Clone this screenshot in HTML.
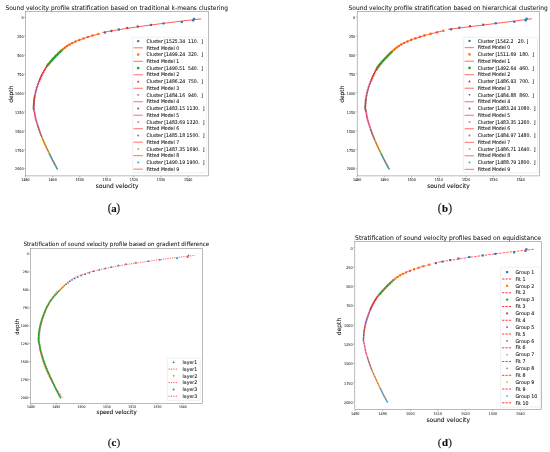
<!DOCTYPE html>
<html><head><meta charset="utf-8"><style>
html,body{margin:0;padding:0;background:#fff;width:550px;height:452px;overflow:hidden}
svg{display:block}
text{white-space:pre}
.tt{font-family:'DejaVu Sans','Liberation Sans',sans-serif;fill:#0a0a0a;stroke:#0a0a0a;stroke-width:0.06}
.tl{font-family:'DejaVu Sans','Liberation Sans',sans-serif;fill:#1a1a1a;stroke:#1a1a1a;stroke-width:0.05}
.ti{font-family:'DejaVu Sans','Liberation Sans',sans-serif;fill:#0d0d0d;stroke:#0d0d0d;stroke-width:0.02}
.lt{font-family:'DejaVu Sans','Liberation Sans',sans-serif;fill:#111;stroke:#111;stroke-width:0.08}
.cap{font-family:'Liberation Serif',serif;font-weight:normal;fill:#111;stroke:#111;stroke-width:0.15}
.ax{fill:none;stroke:#808080;stroke-width:0.55}
.tk{stroke:#808080;stroke-width:0.45}
.lg{fill:#fff;fill-opacity:0.8;stroke:#e0e0e0;stroke-width:0.5}
.fit{fill:none;stroke:#ff3030;stroke-width:0.8}
</style></head><body>
<svg width="550" height="452" viewBox="0 0 550 452">
<defs><filter id="bl" x="0" y="0" width="1" height="1"><feGaussianBlur stdDeviation="0.35"/></filter></defs>
<g filter="url(#bl)">
<line x1="25.5" y1="175.9" x2="25.5" y2="177.5" class="tk"/>
<text x="25.5" y="180.65" text-anchor="middle" font-size="3.63" textLength="8.4" lengthAdjust="spacingAndGlyphs" class="tl">1480</text>
<line x1="52.6" y1="175.9" x2="52.6" y2="177.5" class="tk"/>
<text x="52.6" y="180.65" text-anchor="middle" font-size="3.63" textLength="8.4" lengthAdjust="spacingAndGlyphs" class="tl">1490</text>
<line x1="79.7" y1="175.9" x2="79.7" y2="177.5" class="tk"/>
<text x="79.7" y="180.65" text-anchor="middle" font-size="3.63" textLength="8.4" lengthAdjust="spacingAndGlyphs" class="tl">1500</text>
<line x1="106.8" y1="175.9" x2="106.8" y2="177.5" class="tk"/>
<text x="106.8" y="180.65" text-anchor="middle" font-size="3.63" textLength="8.4" lengthAdjust="spacingAndGlyphs" class="tl">1510</text>
<line x1="133.9" y1="175.9" x2="133.9" y2="177.5" class="tk"/>
<text x="133.9" y="180.65" text-anchor="middle" font-size="3.63" textLength="8.4" lengthAdjust="spacingAndGlyphs" class="tl">1520</text>
<line x1="161" y1="175.9" x2="161" y2="177.5" class="tk"/>
<text x="161" y="180.65" text-anchor="middle" font-size="3.63" textLength="8.4" lengthAdjust="spacingAndGlyphs" class="tl">1530</text>
<line x1="188.1" y1="175.9" x2="188.1" y2="177.5" class="tk"/>
<text x="188.1" y="180.65" text-anchor="middle" font-size="3.63" textLength="8.4" lengthAdjust="spacingAndGlyphs" class="tl">1540</text>
<line x1="23.9" y1="17.35" x2="25.5" y2="17.35" class="tk"/>
<text x="23.5" y="19.15" text-anchor="end" font-size="3.63" textLength="2.1" lengthAdjust="spacingAndGlyphs" class="tl">0</text>
<line x1="23.9" y1="36.26" x2="25.5" y2="36.26" class="tk"/>
<text x="23.5" y="38.06" text-anchor="end" font-size="3.63" textLength="6.3" lengthAdjust="spacingAndGlyphs" class="tl">250</text>
<line x1="23.9" y1="55.17" x2="25.5" y2="55.17" class="tk"/>
<text x="23.5" y="56.97" text-anchor="end" font-size="3.63" textLength="6.3" lengthAdjust="spacingAndGlyphs" class="tl">500</text>
<line x1="23.9" y1="74.08" x2="25.5" y2="74.08" class="tk"/>
<text x="23.5" y="75.88" text-anchor="end" font-size="3.63" textLength="6.3" lengthAdjust="spacingAndGlyphs" class="tl">750</text>
<line x1="23.9" y1="92.99" x2="25.5" y2="92.99" class="tk"/>
<text x="23.5" y="94.79" text-anchor="end" font-size="3.63" textLength="8.4" lengthAdjust="spacingAndGlyphs" class="tl">1000</text>
<line x1="23.9" y1="111.91" x2="25.5" y2="111.91" class="tk"/>
<text x="23.5" y="113.71" text-anchor="end" font-size="3.63" textLength="8.4" lengthAdjust="spacingAndGlyphs" class="tl">1250</text>
<line x1="23.9" y1="130.82" x2="25.5" y2="130.82" class="tk"/>
<text x="23.5" y="132.62" text-anchor="end" font-size="3.63" textLength="8.4" lengthAdjust="spacingAndGlyphs" class="tl">1500</text>
<line x1="23.9" y1="149.73" x2="25.5" y2="149.73" class="tk"/>
<text x="23.5" y="151.53" text-anchor="end" font-size="3.63" textLength="8.4" lengthAdjust="spacingAndGlyphs" class="tl">1750</text>
<line x1="23.9" y1="168.64" x2="25.5" y2="168.64" class="tk"/>
<text x="23.5" y="170.44" text-anchor="end" font-size="3.63" textLength="8.4" lengthAdjust="spacingAndGlyphs" class="tl">2000</text>
<rect x="25.5" y="11.45" width="182.8" height="164.45" class="ax"/>
<text x="5.5" y="9.75" textLength="222.5" lengthAdjust="spacingAndGlyphs" font-size="6.3" class="ti">Sound velocity profile stratification based on traditional k-means clustering</text>
<text x="117.2" y="187.7" text-anchor="middle" font-size="6.17" textLength="42.7" lengthAdjust="spacingAndGlyphs" class="tt">sound velocity</text>
<text transform="translate(12.6,94.2) rotate(-90)" text-anchor="middle" font-size="5.88" class="tt">depth</text>
<text x="114" y="211.6" text-anchor="middle" font-size="11.6" class="cap">(<tspan font-size="10.8" dx="-0.4" font-weight="bold">a</tspan><tspan dx="-0.4">)</tspan></text>
<circle cx="194.06" cy="18.86" r="1.2" fill="#1f77b4"/>
<circle cx="193.16" cy="20.38" r="1.2" fill="#1f77b4"/>
<circle cx="181.89" cy="21.89" r="1.2" fill="#1f77b4"/>
<circle cx="163.47" cy="23.4" r="1.2" fill="#1f77b4"/>
<circle cx="150.99" cy="24.91" r="1.2" fill="#1f77b4"/>
<circle cx="137.81" cy="26.43" r="1.2" fill="#1f77b4"/>
<circle cx="127.19" cy="27.94" r="1.2" fill="#1f77b4"/>
<circle cx="118.96" cy="29.45" r="1.2" fill="#1f77b4"/>
<circle cx="111.38" cy="30.97" r="1.2" fill="#1f77b4"/>
<circle cx="104.9" cy="32.48" r="1.2" fill="#1f77b4"/>
<circle cx="98.59" cy="33.99" r="1.3" fill="#ff7f0e"/>
<circle cx="92.49" cy="35.5" r="1.3" fill="#ff7f0e"/>
<circle cx="87.89" cy="37.02" r="1.3" fill="#ff7f0e"/>
<circle cx="83.44" cy="38.53" r="1.3" fill="#ff7f0e"/>
<circle cx="79.27" cy="40.04" r="1.3" fill="#ff7f0e"/>
<circle cx="75.51" cy="41.56" r="1.3" fill="#ff7f0e"/>
<circle cx="72.26" cy="43.07" r="1.3" fill="#ff7f0e"/>
<circle cx="69.47" cy="44.58" r="1.3" fill="#ff7f0e"/>
<circle cx="67.06" cy="46.09" r="1.3" fill="#ff7f0e"/>
<circle cx="64.97" cy="47.61" r="1.3" fill="#ff7f0e"/>
<circle cx="63.1" cy="49.12" r="1.3" fill="#ff7f0e"/>
<circle cx="61.38" cy="50.63" r="1.35" fill="#2ca02c"/>
<circle cx="59.75" cy="52.15" r="1.35" fill="#2ca02c"/>
<circle cx="58.2" cy="53.66" r="1.35" fill="#2ca02c"/>
<circle cx="56.68" cy="55.17" r="1.35" fill="#2ca02c"/>
<circle cx="55.22" cy="56.69" r="1.35" fill="#2ca02c"/>
<circle cx="53.8" cy="58.2" r="1.35" fill="#2ca02c"/>
<circle cx="52.42" cy="59.71" r="1.35" fill="#2ca02c"/>
<circle cx="51.05" cy="61.22" r="1.35" fill="#2ca02c"/>
<circle cx="49.7" cy="62.74" r="1.35" fill="#2ca02c"/>
<circle cx="48.4" cy="64.25" r="1.35" fill="#2ca02c"/>
<circle cx="47.18" cy="65.76" r="1.35" fill="#2ca02c"/>
<path d="M46.12,65.9L47.44,68.18L44.8,68.18Z" fill="#d62728"/>
<path d="M45.16,67.41L46.48,69.69L43.84,69.69Z" fill="#d62728"/>
<path d="M44.28,68.92L45.6,71.2L42.96,71.2Z" fill="#d62728"/>
<path d="M43.42,70.43L44.74,72.71L42.1,72.71Z" fill="#d62728"/>
<path d="M42.6,71.95L43.92,74.23L41.28,74.23Z" fill="#d62728"/>
<path d="M41.83,73.46L43.15,75.74L40.51,75.74Z" fill="#d62728"/>
<path d="M41.12,74.97L42.44,77.25L39.8,77.25Z" fill="#d62728"/>
<path d="M40.46,76.49L41.78,78.77L39.14,78.77Z" fill="#d62728"/>
<path d="M39.85,78L41.17,80.28L38.53,80.28Z" fill="#d62728"/>
<path d="M39.27,79.51L40.59,81.79L37.95,81.79Z" fill="#d62728"/>
<path d="M38.72,83.73L39.99,81.54L37.46,81.54Z" fill="#9467bd"/>
<path d="M38.18,85.24L39.44,83.05L36.91,83.05Z" fill="#9467bd"/>
<path d="M37.65,86.75L38.91,84.57L36.38,84.57Z" fill="#9467bd"/>
<path d="M37.14,88.27L38.41,86.08L35.88,86.08Z" fill="#9467bd"/>
<path d="M36.66,89.78L37.93,87.59L35.4,87.59Z" fill="#9467bd"/>
<path d="M36.22,91.29L37.49,89.11L34.96,89.11Z" fill="#9467bd"/>
<path d="M35.82,92.8L37.08,90.62L34.55,90.62Z" fill="#9467bd"/>
<path d="M35.45,94.32L36.72,92.13L34.19,92.13Z" fill="#9467bd"/>
<path d="M35.12,95.83L36.39,93.64L33.86,93.64Z" fill="#9467bd"/>
<circle cx="34.82" cy="96.02" r="1.05" fill="#8c564b"/>
<circle cx="34.54" cy="97.53" r="1.05" fill="#8c564b"/>
<circle cx="34.28" cy="99.05" r="1.05" fill="#8c564b"/>
<circle cx="34.05" cy="100.56" r="1.05" fill="#8c564b"/>
<circle cx="33.97" cy="102.07" r="1.05" fill="#8c564b"/>
<circle cx="33.89" cy="103.58" r="1.05" fill="#8c564b"/>
<circle cx="33.77" cy="105.1" r="1.05" fill="#8c564b"/>
<circle cx="33.63" cy="106.61" r="1.05" fill="#8c564b"/>
<circle cx="33.61" cy="108.12" r="1.05" fill="#8c564b"/>
<circle cx="33.81" cy="109.64" r="1.05" fill="#8c564b"/>
<circle cx="34.23" cy="111.15" r="1.05" fill="#e377c2"/>
<circle cx="34.58" cy="112.66" r="1.05" fill="#e377c2"/>
<circle cx="34.89" cy="114.17" r="1.05" fill="#e377c2"/>
<circle cx="35.07" cy="115.69" r="1.05" fill="#e377c2"/>
<circle cx="35.35" cy="117.2" r="1.05" fill="#e377c2"/>
<circle cx="35.67" cy="118.71" r="1.05" fill="#e377c2"/>
<circle cx="36.1" cy="120.23" r="1.05" fill="#e377c2"/>
<circle cx="36.56" cy="121.74" r="1.05" fill="#e377c2"/>
<circle cx="37.04" cy="123.25" r="1.05" fill="#e377c2"/>
<circle cx="37.51" cy="124.76" r="0.95" fill="#7f7f7f"/>
<circle cx="37.99" cy="126.28" r="0.95" fill="#7f7f7f"/>
<circle cx="38.47" cy="127.79" r="0.95" fill="#7f7f7f"/>
<circle cx="38.97" cy="129.3" r="0.95" fill="#7f7f7f"/>
<circle cx="39.48" cy="130.82" r="0.95" fill="#7f7f7f"/>
<circle cx="40" cy="132.33" r="0.95" fill="#7f7f7f"/>
<circle cx="40.55" cy="133.84" r="0.95" fill="#7f7f7f"/>
<circle cx="41.13" cy="135.35" r="0.95" fill="#7f7f7f"/>
<circle cx="41.74" cy="136.87" r="0.95" fill="#7f7f7f"/>
<circle cx="42.37" cy="138.38" r="1.0" fill="#bcbd22"/>
<circle cx="43.02" cy="139.89" r="1.0" fill="#bcbd22"/>
<circle cx="43.68" cy="141.41" r="1.0" fill="#bcbd22"/>
<circle cx="44.35" cy="142.92" r="1.0" fill="#bcbd22"/>
<circle cx="45.03" cy="144.43" r="1.0" fill="#bcbd22"/>
<circle cx="45.72" cy="145.94" r="1.0" fill="#bcbd22"/>
<circle cx="46.42" cy="147.46" r="1.0" fill="#bcbd22"/>
<circle cx="47.14" cy="148.97" r="1.0" fill="#bcbd22"/>
<circle cx="47.86" cy="150.48" r="1.0" fill="#bcbd22"/>
<circle cx="48.59" cy="152" r="1.0" fill="#bcbd22"/>
<circle cx="49.32" cy="153.51" r="1.0" fill="#17becf"/>
<circle cx="50.05" cy="155.02" r="1.0" fill="#17becf"/>
<circle cx="50.77" cy="156.54" r="1.0" fill="#17becf"/>
<circle cx="51.51" cy="158.05" r="1.0" fill="#17becf"/>
<circle cx="52.26" cy="159.56" r="1.0" fill="#17becf"/>
<circle cx="53.03" cy="161.07" r="1.0" fill="#17becf"/>
<circle cx="53.82" cy="162.59" r="1.0" fill="#17becf"/>
<circle cx="54.63" cy="164.1" r="1.0" fill="#17becf"/>
<circle cx="55.45" cy="165.61" r="1.0" fill="#17becf"/>
<circle cx="56.29" cy="167.13" r="1.0" fill="#17becf"/>
<circle cx="57.14" cy="168.64" r="1.0" fill="#17becf"/>
<polyline points="201.19,18.86 194.5,19.62 187.94,20.38 181.53,21.13 175.26,21.89 169.14,22.65 163.15,23.4 157.31,24.16 151.6,24.91 146.04,25.67 140.62,26.43 135.35,27.18 130.21,27.94 125.22,28.7 120.37,29.45 115.65,30.21 111.09,30.97 106.66,31.72 102.37,32.48" class="fit"/>
<polyline points="98.27,33.99 95.53,34.75 92.89,35.5 90.36,36.26 87.93,37.02 85.61,37.77 83.39,38.53 81.28,39.29 79.27,40.04 77.36,40.8 75.56,41.56 73.86,42.31 72.27,43.07 70.78,43.83 69.39,44.58 68.11,45.34 66.93,46.09 65.86,46.85 64.89,47.61 64.03,48.36 63.27,49.12" class="fit"/>
<polyline points="61.35,50.63 60.56,51.39 59.77,52.15 58.99,52.9 58.22,53.66 57.45,54.42 56.7,55.17 55.96,55.93 55.23,56.69 54.5,57.44 53.79,58.2 53.09,58.95 52.39,59.71 51.71,60.47 51.03,61.22 50.37,61.98 49.71,62.74 49.06,63.49 48.42,64.25 47.8,65.01 47.18,65.76" class="fit"/>
<polyline points="46.12,67.28 45.64,68.03 45.17,68.79 44.71,69.54 44.27,70.3 43.83,71.06 43.41,71.81 43,72.57 42.6,73.33 42.21,74.08 41.84,74.84 41.48,75.6 41.13,76.35 40.79,77.11 40.46,77.87 40.14,78.62 39.84,79.38 39.55,80.13 39.27,80.89" class="fit"/>
<polyline points="38.74,82.4 38.45,83.16 38.17,83.92 37.9,84.67 37.64,85.43 37.38,86.19 37.14,86.94 36.9,87.7 36.67,88.46 36.44,89.21 36.23,89.97 36.02,90.72 35.82,91.48 35.63,92.24 35.45,92.99 35.28,93.75 35.11,94.51" class="fit"/>
<polyline points="34.81,96.02 34.67,96.78 34.54,97.53 34.41,98.29 34.3,99.05 34.19,99.8 34.1,100.56 34.01,101.32 33.94,102.07 33.87,102.83 33.82,103.58 33.77,104.34 33.74,105.1 33.71,105.85 33.7,106.61 33.69,107.37 33.7,108.12 33.71,108.88 33.74,109.64" class="fit"/>
<polyline points="34.31,111.15 34.42,111.91 34.53,112.66 34.65,113.42 34.78,114.17 34.92,114.93 35.06,115.69 35.22,116.44 35.38,117.2 35.56,117.96 35.74,118.71 35.93,119.47 36.13,120.23 36.33,120.98 36.55,121.74 36.77,122.5 37.01,123.25" class="fit"/>
<polyline points="37.52,124.76 37.75,125.52 37.98,126.28 38.22,127.03 38.46,127.79 38.71,128.55 38.96,129.3 39.22,130.06 39.48,130.82 39.74,131.57 40.01,132.33 40.29,133.09 40.56,133.84 40.85,134.6 41.14,135.35 41.43,136.11 41.73,136.87" class="fit"/>
<polyline points="42.37,138.38 42.69,139.14 43.02,139.89 43.35,140.65 43.68,141.41 44.01,142.16 44.35,142.92 44.69,143.68 45.03,144.43 45.38,145.19 45.72,145.94 46.07,146.7 46.42,147.46 46.78,148.21 47.14,148.97 47.5,149.73 47.86,150.48 48.22,151.24 48.59,152" class="fit"/>
<polyline points="49.33,153.51 49.68,154.27 50.04,155.02 50.4,155.78 50.76,156.54 51.13,157.29 51.5,158.05 51.88,158.8 52.26,159.56 52.65,160.32 53.03,161.07 53.43,161.83 53.82,162.59 54.22,163.34 54.63,164.1 55.04,164.86 55.45,165.61 55.87,166.37 56.29,167.13 56.71,167.88 57.14,168.64" class="fit"/>
<rect x="132.6" y="37.2" width="73.8" height="135.4" rx="1" class="lg"/>
<circle cx="138.2" cy="41.1" r="1.2" fill="#1f77b4"/>
<text x="146.5" y="42.76" font-size="4.97" textLength="56.49" lengthAdjust="spacingAndGlyphs" class="lt">Cluster [1525.34  110.  ]</text>
<line x1="133.5" y1="47.84" x2="142.8" y2="47.84" stroke="#ff4848" stroke-width="0.8"/>
<text x="146.5" y="49.5" font-size="4.97" textLength="32.61" lengthAdjust="spacingAndGlyphs" class="lt">Fitted Model 0</text>
<circle cx="138.2" cy="54.58" r="1.3" fill="#ff7f0e"/>
<text x="146.5" y="56.24" font-size="4.97" textLength="56.49" lengthAdjust="spacingAndGlyphs" class="lt">Cluster [1499.24  320.  ]</text>
<line x1="133.5" y1="61.32" x2="142.8" y2="61.32" stroke="#ff4848" stroke-width="0.8"/>
<text x="146.5" y="62.98" font-size="4.97" textLength="32.61" lengthAdjust="spacingAndGlyphs" class="lt">Fitted Model 1</text>
<circle cx="138.2" cy="68.06" r="1.35" fill="#2ca02c"/>
<text x="146.5" y="69.72" font-size="4.97" textLength="56.49" lengthAdjust="spacingAndGlyphs" class="lt">Cluster [1490.51  540.  ]</text>
<line x1="133.5" y1="74.8" x2="142.8" y2="74.8" stroke="#ff4848" stroke-width="0.8"/>
<text x="146.5" y="76.46" font-size="4.97" textLength="32.61" lengthAdjust="spacingAndGlyphs" class="lt">Fitted Model 2</text>
<path d="M138.2,80.16L139.52,82.44L136.88,82.44Z" fill="#d62728"/>
<text x="146.5" y="83.2" font-size="4.97" textLength="56.49" lengthAdjust="spacingAndGlyphs" class="lt">Cluster [1486.24  750.  ]</text>
<line x1="133.5" y1="88.28" x2="142.8" y2="88.28" stroke="#ff4848" stroke-width="0.8"/>
<text x="146.5" y="89.94" font-size="4.97" textLength="32.61" lengthAdjust="spacingAndGlyphs" class="lt">Fitted Model 3</text>
<path d="M138.2,96.34L139.46,94.16L136.94,94.16Z" fill="#9467bd"/>
<text x="146.5" y="96.68" font-size="4.97" textLength="56.49" lengthAdjust="spacingAndGlyphs" class="lt">Cluster [1484.16  940.  ]</text>
<line x1="133.5" y1="101.76" x2="142.8" y2="101.76" stroke="#ff4848" stroke-width="0.8"/>
<text x="146.5" y="103.42" font-size="4.97" textLength="32.61" lengthAdjust="spacingAndGlyphs" class="lt">Fitted Model 4</text>
<circle cx="138.2" cy="108.5" r="1.05" fill="#8c564b"/>
<text x="146.5" y="110.16" font-size="4.97" textLength="57.95" lengthAdjust="spacingAndGlyphs" class="lt">Cluster [1483.15 1130.  ]</text>
<line x1="133.5" y1="115.24" x2="142.8" y2="115.24" stroke="#ff4848" stroke-width="0.8"/>
<text x="146.5" y="116.9" font-size="4.97" textLength="32.61" lengthAdjust="spacingAndGlyphs" class="lt">Fitted Model 5</text>
<circle cx="138.2" cy="121.98" r="1.05" fill="#e377c2"/>
<text x="146.5" y="123.64" font-size="4.97" textLength="57.95" lengthAdjust="spacingAndGlyphs" class="lt">Cluster [1483.69 1320.  ]</text>
<line x1="133.5" y1="128.72" x2="142.8" y2="128.72" stroke="#ff4848" stroke-width="0.8"/>
<text x="146.5" y="130.38" font-size="4.97" textLength="32.61" lengthAdjust="spacingAndGlyphs" class="lt">Fitted Model 6</text>
<circle cx="138.2" cy="135.46" r="0.95" fill="#7f7f7f"/>
<text x="146.5" y="137.12" font-size="4.97" textLength="57.95" lengthAdjust="spacingAndGlyphs" class="lt">Cluster [1485.18 1500.  ]</text>
<line x1="133.5" y1="142.2" x2="142.8" y2="142.2" stroke="#ff4848" stroke-width="0.8"/>
<text x="146.5" y="143.86" font-size="4.97" textLength="32.61" lengthAdjust="spacingAndGlyphs" class="lt">Fitted Model 7</text>
<circle cx="138.2" cy="148.94" r="1.0" fill="#bcbd22"/>
<text x="146.5" y="150.6" font-size="4.97" textLength="57.95" lengthAdjust="spacingAndGlyphs" class="lt">Cluster [1487.35 1690.  ]</text>
<line x1="133.5" y1="155.68" x2="142.8" y2="155.68" stroke="#ff4848" stroke-width="0.8"/>
<text x="146.5" y="157.34" font-size="4.97" textLength="32.61" lengthAdjust="spacingAndGlyphs" class="lt">Fitted Model 8</text>
<circle cx="138.2" cy="162.42" r="1.0" fill="#17becf"/>
<text x="146.5" y="164.08" font-size="4.97" textLength="57.95" lengthAdjust="spacingAndGlyphs" class="lt">Cluster [1490.19 1900.  ]</text>
<line x1="133.5" y1="169.16" x2="142.8" y2="169.16" stroke="#ff4848" stroke-width="0.8"/>
<text x="146.5" y="170.82" font-size="4.97" textLength="32.61" lengthAdjust="spacingAndGlyphs" class="lt">Fitted Model 9</text>
<line x1="357.1" y1="175.9" x2="357.1" y2="177.5" class="tk"/>
<text x="357.1" y="180.65" text-anchor="middle" font-size="3.63" textLength="8.4" lengthAdjust="spacingAndGlyphs" class="tl">1480</text>
<line x1="384.35" y1="175.9" x2="384.35" y2="177.5" class="tk"/>
<text x="384.35" y="180.65" text-anchor="middle" font-size="3.63" textLength="8.4" lengthAdjust="spacingAndGlyphs" class="tl">1490</text>
<line x1="411.6" y1="175.9" x2="411.6" y2="177.5" class="tk"/>
<text x="411.6" y="180.65" text-anchor="middle" font-size="3.63" textLength="8.4" lengthAdjust="spacingAndGlyphs" class="tl">1500</text>
<line x1="438.85" y1="175.9" x2="438.85" y2="177.5" class="tk"/>
<text x="438.85" y="180.65" text-anchor="middle" font-size="3.63" textLength="8.4" lengthAdjust="spacingAndGlyphs" class="tl">1510</text>
<line x1="466.1" y1="175.9" x2="466.1" y2="177.5" class="tk"/>
<text x="466.1" y="180.65" text-anchor="middle" font-size="3.63" textLength="8.4" lengthAdjust="spacingAndGlyphs" class="tl">1520</text>
<line x1="493.35" y1="175.9" x2="493.35" y2="177.5" class="tk"/>
<text x="493.35" y="180.65" text-anchor="middle" font-size="3.63" textLength="8.4" lengthAdjust="spacingAndGlyphs" class="tl">1530</text>
<line x1="520.6" y1="175.9" x2="520.6" y2="177.5" class="tk"/>
<text x="520.6" y="180.65" text-anchor="middle" font-size="3.63" textLength="8.4" lengthAdjust="spacingAndGlyphs" class="tl">1540</text>
<line x1="355.6" y1="17.21" x2="357.2" y2="17.21" class="tk"/>
<text x="355.2" y="19.01" text-anchor="end" font-size="3.63" textLength="2.1" lengthAdjust="spacingAndGlyphs" class="tl">0</text>
<line x1="355.6" y1="36.13" x2="357.2" y2="36.13" class="tk"/>
<text x="355.2" y="37.93" text-anchor="end" font-size="3.63" textLength="6.3" lengthAdjust="spacingAndGlyphs" class="tl">250</text>
<line x1="355.6" y1="55.06" x2="357.2" y2="55.06" class="tk"/>
<text x="355.2" y="56.86" text-anchor="end" font-size="3.63" textLength="6.3" lengthAdjust="spacingAndGlyphs" class="tl">500</text>
<line x1="355.6" y1="73.99" x2="357.2" y2="73.99" class="tk"/>
<text x="355.2" y="75.79" text-anchor="end" font-size="3.63" textLength="6.3" lengthAdjust="spacingAndGlyphs" class="tl">750</text>
<line x1="355.6" y1="92.92" x2="357.2" y2="92.92" class="tk"/>
<text x="355.2" y="94.72" text-anchor="end" font-size="3.63" textLength="8.4" lengthAdjust="spacingAndGlyphs" class="tl">1000</text>
<line x1="355.6" y1="111.85" x2="357.2" y2="111.85" class="tk"/>
<text x="355.2" y="113.65" text-anchor="end" font-size="3.63" textLength="8.4" lengthAdjust="spacingAndGlyphs" class="tl">1250</text>
<line x1="355.6" y1="130.78" x2="357.2" y2="130.78" class="tk"/>
<text x="355.2" y="132.58" text-anchor="end" font-size="3.63" textLength="8.4" lengthAdjust="spacingAndGlyphs" class="tl">1500</text>
<line x1="355.6" y1="149.7" x2="357.2" y2="149.7" class="tk"/>
<text x="355.2" y="151.5" text-anchor="end" font-size="3.63" textLength="8.4" lengthAdjust="spacingAndGlyphs" class="tl">1750</text>
<line x1="355.6" y1="168.63" x2="357.2" y2="168.63" class="tk"/>
<text x="355.2" y="170.43" text-anchor="end" font-size="3.63" textLength="8.4" lengthAdjust="spacingAndGlyphs" class="tl">2000</text>
<rect x="357.2" y="11.3" width="182.4" height="164.6" class="ax"/>
<text x="348.6" y="9.75" textLength="199.2" lengthAdjust="spacingAndGlyphs" font-size="6.3" class="ti">Sound velocity profile stratification based on hierarchical clustering</text>
<text x="448.5" y="187.7" text-anchor="middle" font-size="6.17" textLength="42.7" lengthAdjust="spacingAndGlyphs" class="tt">sound velocity</text>
<text transform="translate(344.4,94.2) rotate(-90)" text-anchor="middle" font-size="5.88" class="tt">depth</text>
<text x="444.9" y="211.6" text-anchor="middle" font-size="11.6" class="cap">(<tspan font-size="10.8" dx="0.35" font-weight="bold">b</tspan><tspan dx="0.35">)</tspan></text>
<circle cx="526.59" cy="18.72" r="1.2" fill="#1f77b4"/>
<circle cx="525.69" cy="20.23" r="1.2" fill="#1f77b4"/>
<circle cx="514.35" cy="21.75" r="1.2" fill="#1f77b4"/>
<circle cx="495.83" cy="23.26" r="1.2" fill="#1f77b4"/>
<circle cx="483.29" cy="24.78" r="1.2" fill="#1f77b4"/>
<circle cx="470.03" cy="26.29" r="1.2" fill="#1f77b4"/>
<circle cx="459.35" cy="27.81" r="1.2" fill="#1f77b4"/>
<circle cx="451.07" cy="29.32" r="1.2" fill="#1f77b4"/>
<circle cx="443.45" cy="30.83" r="1.3" fill="#ff7f0e"/>
<circle cx="436.94" cy="32.35" r="1.3" fill="#ff7f0e"/>
<circle cx="430.59" cy="33.86" r="1.3" fill="#ff7f0e"/>
<circle cx="424.46" cy="35.38" r="1.3" fill="#ff7f0e"/>
<circle cx="419.84" cy="36.89" r="1.3" fill="#ff7f0e"/>
<circle cx="415.36" cy="38.41" r="1.3" fill="#ff7f0e"/>
<circle cx="411.17" cy="39.92" r="1.3" fill="#ff7f0e"/>
<circle cx="407.38" cy="41.43" r="1.3" fill="#ff7f0e"/>
<circle cx="404.12" cy="42.95" r="1.3" fill="#ff7f0e"/>
<circle cx="401.31" cy="44.46" r="1.3" fill="#ff7f0e"/>
<circle cx="398.89" cy="45.98" r="1.3" fill="#ff7f0e"/>
<circle cx="396.78" cy="47.49" r="1.3" fill="#ff7f0e"/>
<circle cx="394.91" cy="49.01" r="1.3" fill="#ff7f0e"/>
<circle cx="393.18" cy="50.52" r="1.3" fill="#ff7f0e"/>
<circle cx="391.54" cy="52.03" r="1.35" fill="#2ca02c"/>
<circle cx="389.98" cy="53.55" r="1.35" fill="#2ca02c"/>
<circle cx="388.46" cy="55.06" r="1.35" fill="#2ca02c"/>
<circle cx="386.98" cy="56.58" r="1.35" fill="#2ca02c"/>
<circle cx="385.56" cy="58.09" r="1.35" fill="#2ca02c"/>
<circle cx="384.17" cy="59.6" r="1.35" fill="#2ca02c"/>
<circle cx="382.79" cy="61.12" r="1.35" fill="#2ca02c"/>
<circle cx="381.44" cy="62.63" r="1.35" fill="#2ca02c"/>
<circle cx="380.13" cy="64.15" r="1.35" fill="#2ca02c"/>
<circle cx="378.9" cy="65.66" r="1.35" fill="#2ca02c"/>
<circle cx="377.83" cy="67.18" r="1.35" fill="#2ca02c"/>
<circle cx="376.87" cy="68.69" r="1.35" fill="#2ca02c"/>
<path d="M375.98,68.82L377.3,71.1L374.66,71.1Z" fill="#d62728"/>
<path d="M375.12,70.34L376.44,72.62L373.8,72.62Z" fill="#d62728"/>
<path d="M374.3,71.85L375.62,74.13L372.98,74.13Z" fill="#d62728"/>
<path d="M373.52,73.37L374.84,75.65L372.2,75.65Z" fill="#d62728"/>
<path d="M372.8,74.88L374.12,77.16L371.48,77.16Z" fill="#d62728"/>
<path d="M372.14,76.4L373.46,78.68L370.82,78.68Z" fill="#d62728"/>
<path d="M371.52,77.91L372.84,80.19L370.2,80.19Z" fill="#d62728"/>
<path d="M370.95,79.42L372.27,81.7L369.63,81.7Z" fill="#d62728"/>
<path d="M370.4,83.64L371.66,81.46L369.13,81.46Z" fill="#9467bd"/>
<path d="M369.85,85.16L371.11,82.97L368.58,82.97Z" fill="#9467bd"/>
<path d="M369.32,86.67L370.58,84.48L368.05,84.48Z" fill="#9467bd"/>
<path d="M368.81,88.18L370.07,86L367.54,86Z" fill="#9467bd"/>
<path d="M368.32,89.7L369.59,87.51L367.06,87.51Z" fill="#9467bd"/>
<path d="M367.88,91.21L369.14,89.03L366.61,89.03Z" fill="#9467bd"/>
<path d="M367.47,92.73L368.74,90.54L366.21,90.54Z" fill="#9467bd"/>
<path d="M367.11,94.24L368.37,92.06L365.84,92.06Z" fill="#9467bd"/>
<path d="M366.77,95.76L368.04,93.57L365.51,93.57Z" fill="#9467bd"/>
<path d="M366.47,97.27L367.74,95.08L365.21,95.08Z" fill="#9467bd"/>
<path d="M366.19,98.78L367.45,96.6L364.92,96.6Z" fill="#9467bd"/>
<circle cx="365.93" cy="98.98" r="1.05" fill="#8c564b"/>
<circle cx="365.69" cy="100.49" r="1.05" fill="#8c564b"/>
<circle cx="365.61" cy="102" r="1.05" fill="#8c564b"/>
<circle cx="365.54" cy="103.52" r="1.05" fill="#8c564b"/>
<circle cx="365.42" cy="105.03" r="1.05" fill="#8c564b"/>
<circle cx="365.28" cy="106.55" r="1.05" fill="#8c564b"/>
<circle cx="365.25" cy="108.06" r="1.05" fill="#8c564b"/>
<circle cx="365.45" cy="109.58" r="1.05" fill="#8c564b"/>
<circle cx="365.88" cy="111.09" r="1.05" fill="#8c564b"/>
<circle cx="366.23" cy="112.6" r="1.05" fill="#e377c2"/>
<circle cx="366.54" cy="114.12" r="1.05" fill="#e377c2"/>
<circle cx="366.72" cy="115.63" r="1.05" fill="#e377c2"/>
<circle cx="367" cy="117.15" r="1.05" fill="#e377c2"/>
<circle cx="367.33" cy="118.66" r="1.05" fill="#e377c2"/>
<circle cx="367.75" cy="120.18" r="1.05" fill="#e377c2"/>
<circle cx="368.22" cy="121.69" r="1.05" fill="#e377c2"/>
<circle cx="368.7" cy="123.2" r="1.05" fill="#e377c2"/>
<circle cx="369.18" cy="124.72" r="1.05" fill="#e377c2"/>
<circle cx="369.66" cy="126.23" r="1.05" fill="#e377c2"/>
<circle cx="370.14" cy="127.75" r="1.05" fill="#e377c2"/>
<circle cx="370.64" cy="129.26" r="0.95" fill="#7f7f7f"/>
<circle cx="371.15" cy="130.78" r="0.95" fill="#7f7f7f"/>
<circle cx="371.68" cy="132.29" r="0.95" fill="#7f7f7f"/>
<circle cx="372.24" cy="133.8" r="0.95" fill="#7f7f7f"/>
<circle cx="372.82" cy="135.32" r="0.95" fill="#7f7f7f"/>
<circle cx="373.43" cy="136.83" r="0.95" fill="#7f7f7f"/>
<circle cx="374.06" cy="138.35" r="0.95" fill="#7f7f7f"/>
<circle cx="374.72" cy="139.86" r="0.95" fill="#7f7f7f"/>
<circle cx="375.38" cy="141.37" r="1.0" fill="#bcbd22"/>
<circle cx="376.06" cy="142.89" r="1.0" fill="#bcbd22"/>
<circle cx="376.74" cy="144.4" r="1.0" fill="#bcbd22"/>
<circle cx="377.43" cy="145.92" r="1.0" fill="#bcbd22"/>
<circle cx="378.14" cy="147.43" r="1.0" fill="#bcbd22"/>
<circle cx="378.86" cy="148.95" r="1.0" fill="#bcbd22"/>
<circle cx="379.58" cy="150.46" r="1.0" fill="#bcbd22"/>
<circle cx="380.32" cy="151.97" r="1.0" fill="#bcbd22"/>
<circle cx="381.05" cy="153.49" r="1.0" fill="#17becf"/>
<circle cx="381.78" cy="155" r="1.0" fill="#17becf"/>
<circle cx="382.51" cy="156.52" r="1.0" fill="#17becf"/>
<circle cx="383.25" cy="158.03" r="1.0" fill="#17becf"/>
<circle cx="384.01" cy="159.55" r="1.0" fill="#17becf"/>
<circle cx="384.78" cy="161.06" r="1.0" fill="#17becf"/>
<circle cx="385.58" cy="162.57" r="1.0" fill="#17becf"/>
<circle cx="386.39" cy="164.09" r="1.0" fill="#17becf"/>
<circle cx="387.22" cy="165.6" r="1.0" fill="#17becf"/>
<circle cx="388.06" cy="167.12" r="1.0" fill="#17becf"/>
<circle cx="388.91" cy="168.63" r="1.0" fill="#17becf"/>
<polyline points="531.85,18.72 526.25,19.48 520.59,20.23 514.87,20.99 509.1,21.75 503.26,22.51 497.36,23.26 491.4,24.02 485.39,24.78 479.31,25.53 473.17,26.29 466.98,27.05 460.72,27.81 454.41,28.56 448.03,29.32" class="fit"/>
<polyline points="443.1,30.83 439.84,31.59 436.69,32.35 433.65,33.11 430.72,33.86 427.89,34.62 425.18,35.38 422.57,36.13 420.07,36.89 417.68,37.65 415.4,38.41 413.23,39.16 411.16,39.92 409.21,40.68 407.36,41.43 405.63,42.19 404,42.95 402.48,43.71 401.07,44.46 399.76,45.22 398.57,45.98 397.49,46.73 396.51,47.49 395.64,48.25 394.88,49.01 394.23,49.76 393.69,50.52" class="fit"/>
<polyline points="391.59,52.03 390.78,52.79 389.99,53.55 389.21,54.3 388.45,55.06 387.69,55.82 386.95,56.58 386.22,57.33 385.51,58.09 384.8,58.85 384.11,59.6 383.43,60.36 382.76,61.12 382.1,61.88 381.46,62.63 380.83,63.39 380.21,64.15 379.6,64.9 379.01,65.66 378.43,66.42 377.86,67.18 377.3,67.93 376.75,68.69" class="fit"/>
<polyline points="375.99,70.2 375.54,70.96 375.12,71.72 374.7,72.48 374.3,73.23 373.9,73.99 373.53,74.75 373.16,75.5 372.81,76.26 372.47,77.02 372.14,77.78 371.82,78.53 371.52,79.29 371.23,80.05 370.95,80.8" class="fit"/>
<polyline points="370.41,82.32 370.12,83.08 369.84,83.83 369.57,84.59 369.3,85.35 369.05,86.1 368.8,86.86 368.56,87.62 368.33,88.38 368.1,89.13 367.89,89.89 367.68,90.65 367.48,91.4 367.29,92.16 367.11,92.92 366.94,93.68 366.77,94.43 366.61,95.19 366.46,95.95 366.32,96.7 366.19,97.46" class="fit"/>
<polyline points="365.99,98.98 365.85,99.73 365.73,100.49 365.63,101.25 365.54,102 365.47,102.76 365.41,103.52 365.37,104.28 365.35,105.03 365.34,105.79 365.35,106.55 365.37,107.3 365.41,108.06 365.47,108.82 365.54,109.58 365.63,110.33 365.73,111.09" class="fit"/>
<polyline points="366.23,112.6 366.35,113.36 366.47,114.12 366.6,114.88 366.74,115.63 366.89,116.39 367.05,117.15 367.22,117.9 367.4,118.66 367.58,119.42 367.78,120.18 367.98,120.93 368.19,121.69 368.41,122.45 368.64,123.2 368.88,123.96 369.13,124.72 369.38,125.48 369.65,126.23 369.92,126.99 370.2,127.75" class="fit"/>
<polyline points="370.64,129.26 370.89,130.02 371.15,130.78 371.41,131.53 371.68,132.29 371.96,133.05 372.24,133.8 372.53,134.56 372.82,135.32 373.12,136.07 373.43,136.83 373.74,137.59 374.06,138.35 374.39,139.1 374.72,139.86" class="fit"/>
<polyline points="375.38,141.37 375.72,142.13 376.06,142.89 376.4,143.65 376.74,144.4 377.09,145.16 377.43,145.92 377.78,146.67 378.14,147.43 378.5,148.19 378.85,148.95 379.22,149.7 379.58,150.46 379.95,151.22 380.32,151.97" class="fit"/>
<polyline points="381.06,153.49 381.42,154.25 381.77,155 382.14,155.76 382.5,156.52 382.87,157.27 383.25,158.03 383.63,158.79 384.01,159.55 384.4,160.3 384.79,161.06 385.18,161.82 385.58,162.57 385.98,163.33 386.39,164.09 386.8,164.85 387.22,165.6 387.64,166.36 388.06,167.12 388.49,167.87 388.92,168.63" class="fit"/>
<rect x="463.6" y="37.3" width="74" height="135.5" rx="1" class="lg"/>
<circle cx="469.5" cy="40.9" r="1.2" fill="#1f77b4"/>
<text x="477.7" y="42.56" font-size="4.97" textLength="50.64" lengthAdjust="spacingAndGlyphs" class="lt">Cluster [1542.2   20. ]</text>
<line x1="464.6" y1="47.66" x2="474" y2="47.66" stroke="#ff4848" stroke-width="0.8"/>
<text x="477.7" y="49.32" font-size="4.97" textLength="32.61" lengthAdjust="spacingAndGlyphs" class="lt">Fitted Model 0</text>
<circle cx="469.5" cy="54.42" r="1.3" fill="#ff7f0e"/>
<text x="477.7" y="56.08" font-size="4.97" textLength="56.49" lengthAdjust="spacingAndGlyphs" class="lt">Cluster [1511.69  180.  ]</text>
<line x1="464.6" y1="61.18" x2="474" y2="61.18" stroke="#ff4848" stroke-width="0.8"/>
<text x="477.7" y="62.84" font-size="4.97" textLength="32.61" lengthAdjust="spacingAndGlyphs" class="lt">Fitted Model 1</text>
<circle cx="469.5" cy="67.94" r="1.35" fill="#2ca02c"/>
<text x="477.7" y="69.6" font-size="4.97" textLength="56.49" lengthAdjust="spacingAndGlyphs" class="lt">Cluster [1492.64  460.  ]</text>
<line x1="464.6" y1="74.7" x2="474" y2="74.7" stroke="#ff4848" stroke-width="0.8"/>
<text x="477.7" y="76.36" font-size="4.97" textLength="32.61" lengthAdjust="spacingAndGlyphs" class="lt">Fitted Model 2</text>
<path d="M469.5,80.08L470.82,82.36L468.18,82.36Z" fill="#d62728"/>
<text x="477.7" y="83.12" font-size="4.97" textLength="56.49" lengthAdjust="spacingAndGlyphs" class="lt">Cluster [1486.93  700.  ]</text>
<line x1="464.6" y1="88.22" x2="474" y2="88.22" stroke="#ff4848" stroke-width="0.8"/>
<text x="477.7" y="89.88" font-size="4.97" textLength="32.61" lengthAdjust="spacingAndGlyphs" class="lt">Fitted Model 3</text>
<path d="M469.5,96.3L470.76,94.12L468.24,94.12Z" fill="#9467bd"/>
<text x="477.7" y="96.64" font-size="4.97" textLength="56.49" lengthAdjust="spacingAndGlyphs" class="lt">Cluster [1484.88  860.  ]</text>
<line x1="464.6" y1="101.74" x2="474" y2="101.74" stroke="#ff4848" stroke-width="0.8"/>
<text x="477.7" y="103.4" font-size="4.97" textLength="32.61" lengthAdjust="spacingAndGlyphs" class="lt">Fitted Model 4</text>
<circle cx="469.5" cy="108.5" r="1.05" fill="#8c564b"/>
<text x="477.7" y="110.16" font-size="4.97" textLength="57.95" lengthAdjust="spacingAndGlyphs" class="lt">Cluster [1483.24 1080.  ]</text>
<line x1="464.6" y1="115.26" x2="474" y2="115.26" stroke="#ff4848" stroke-width="0.8"/>
<text x="477.7" y="116.92" font-size="4.97" textLength="32.61" lengthAdjust="spacingAndGlyphs" class="lt">Fitted Model 5</text>
<circle cx="469.5" cy="122.02" r="1.05" fill="#e377c2"/>
<text x="477.7" y="123.68" font-size="4.97" textLength="57.95" lengthAdjust="spacingAndGlyphs" class="lt">Cluster [1483.35 1260.  ]</text>
<line x1="464.6" y1="128.78" x2="474" y2="128.78" stroke="#ff4848" stroke-width="0.8"/>
<text x="477.7" y="130.44" font-size="4.97" textLength="32.61" lengthAdjust="spacingAndGlyphs" class="lt">Fitted Model 6</text>
<circle cx="469.5" cy="135.54" r="0.95" fill="#7f7f7f"/>
<text x="477.7" y="137.2" font-size="4.97" textLength="57.95" lengthAdjust="spacingAndGlyphs" class="lt">Cluster [1484.97 1480.  ]</text>
<line x1="464.6" y1="142.3" x2="474" y2="142.3" stroke="#ff4848" stroke-width="0.8"/>
<text x="477.7" y="143.96" font-size="4.97" textLength="32.61" lengthAdjust="spacingAndGlyphs" class="lt">Fitted Model 7</text>
<circle cx="469.5" cy="149.06" r="1.0" fill="#bcbd22"/>
<text x="477.7" y="150.72" font-size="4.97" textLength="57.95" lengthAdjust="spacingAndGlyphs" class="lt">Cluster [1486.71 1640.  ]</text>
<line x1="464.6" y1="155.82" x2="474" y2="155.82" stroke="#ff4848" stroke-width="0.8"/>
<text x="477.7" y="157.48" font-size="4.97" textLength="32.61" lengthAdjust="spacingAndGlyphs" class="lt">Fitted Model 8</text>
<circle cx="469.5" cy="162.58" r="1.0" fill="#17becf"/>
<text x="477.7" y="164.24" font-size="4.97" textLength="57.95" lengthAdjust="spacingAndGlyphs" class="lt">Cluster [1488.79 1800.  ]</text>
<line x1="464.6" y1="169.34" x2="474" y2="169.34" stroke="#ff4848" stroke-width="0.8"/>
<text x="477.7" y="171" font-size="4.97" textLength="32.61" lengthAdjust="spacingAndGlyphs" class="lt">Fitted Model 9</text>
<line x1="30.9" y1="403.3" x2="30.9" y2="404.81" class="tk"/>
<text x="30.9" y="407.5" text-anchor="middle" font-size="3.41" textLength="7.89" lengthAdjust="spacingAndGlyphs" class="tl">1480</text>
<line x1="56.23" y1="403.3" x2="56.23" y2="404.81" class="tk"/>
<text x="56.23" y="407.5" text-anchor="middle" font-size="3.41" textLength="7.89" lengthAdjust="spacingAndGlyphs" class="tl">1490</text>
<line x1="81.56" y1="403.3" x2="81.56" y2="404.81" class="tk"/>
<text x="81.56" y="407.5" text-anchor="middle" font-size="3.41" textLength="7.89" lengthAdjust="spacingAndGlyphs" class="tl">1500</text>
<line x1="106.89" y1="403.3" x2="106.89" y2="404.81" class="tk"/>
<text x="106.89" y="407.5" text-anchor="middle" font-size="3.41" textLength="7.89" lengthAdjust="spacingAndGlyphs" class="tl">1510</text>
<line x1="132.22" y1="403.3" x2="132.22" y2="404.81" class="tk"/>
<text x="132.22" y="407.5" text-anchor="middle" font-size="3.41" textLength="7.89" lengthAdjust="spacingAndGlyphs" class="tl">1520</text>
<line x1="157.55" y1="403.3" x2="157.55" y2="404.81" class="tk"/>
<text x="157.55" y="407.5" text-anchor="middle" font-size="3.41" textLength="7.89" lengthAdjust="spacingAndGlyphs" class="tl">1530</text>
<line x1="182.88" y1="403.3" x2="182.88" y2="404.81" class="tk"/>
<text x="182.88" y="407.5" text-anchor="middle" font-size="3.41" textLength="7.89" lengthAdjust="spacingAndGlyphs" class="tl">1540</text>
<line x1="28.99" y1="254" x2="30.5" y2="254" class="tk"/>
<text x="28.6" y="255.3" text-anchor="end" font-size="3.41" textLength="1.97" lengthAdjust="spacingAndGlyphs" class="tl">0</text>
<line x1="28.99" y1="271.94" x2="30.5" y2="271.94" class="tk"/>
<text x="28.6" y="273.24" text-anchor="end" font-size="3.41" textLength="5.92" lengthAdjust="spacingAndGlyphs" class="tl">250</text>
<line x1="28.99" y1="289.88" x2="30.5" y2="289.88" class="tk"/>
<text x="28.6" y="291.18" text-anchor="end" font-size="3.41" textLength="5.92" lengthAdjust="spacingAndGlyphs" class="tl">500</text>
<line x1="28.99" y1="307.82" x2="30.5" y2="307.82" class="tk"/>
<text x="28.6" y="309.12" text-anchor="end" font-size="3.41" textLength="5.92" lengthAdjust="spacingAndGlyphs" class="tl">750</text>
<line x1="28.99" y1="325.76" x2="30.5" y2="325.76" class="tk"/>
<text x="28.6" y="327.06" text-anchor="end" font-size="3.41" textLength="7.89" lengthAdjust="spacingAndGlyphs" class="tl">1000</text>
<line x1="28.99" y1="343.69" x2="30.5" y2="343.69" class="tk"/>
<text x="28.6" y="344.99" text-anchor="end" font-size="3.41" textLength="7.89" lengthAdjust="spacingAndGlyphs" class="tl">1250</text>
<line x1="28.99" y1="361.63" x2="30.5" y2="361.63" class="tk"/>
<text x="28.6" y="362.93" text-anchor="end" font-size="3.41" textLength="7.89" lengthAdjust="spacingAndGlyphs" class="tl">1500</text>
<line x1="28.99" y1="379.57" x2="30.5" y2="379.57" class="tk"/>
<text x="28.6" y="380.87" text-anchor="end" font-size="3.41" textLength="7.89" lengthAdjust="spacingAndGlyphs" class="tl">1750</text>
<line x1="28.99" y1="397.51" x2="30.5" y2="397.51" class="tk"/>
<text x="28.6" y="398.81" text-anchor="end" font-size="3.41" textLength="7.89" lengthAdjust="spacingAndGlyphs" class="tl">2000</text>
<rect x="30.5" y="248.5" width="172" height="154.8" class="ax"/>
<text x="23.4" y="246.2" textLength="185.8" lengthAdjust="spacingAndGlyphs" font-size="5.9" class="ti">Stratification of sound velocity profile based on gradient difference</text>
<text x="116.6" y="414.4" text-anchor="middle" font-size="5.82" textLength="40.15" lengthAdjust="spacingAndGlyphs" class="tt">speed velocity</text>
<text transform="translate(18.7,326.9) rotate(-90)" text-anchor="middle" font-size="5.54" class="tt">depth</text>
<text x="114" y="446" text-anchor="middle" font-size="11.2" class="cap">(<tspan font-size="10.8" dx="0" font-weight="bold">c</tspan><tspan dx="0">)</tspan></text>
<path d="M188.45,254.23L189.61,256.23L187.3,256.23Z" fill="#1f77b4"/>
<path d="M187.61,255.67L188.77,257.66L186.46,257.66Z" fill="#1f77b4"/>
<path d="M177.07,257.1L178.23,259.1L175.92,259.1Z" fill="#1f77b4"/>
<path d="M159.86,258.54L161.01,260.53L158.7,260.53Z" fill="#1f77b4"/>
<path d="M148.2,259.97L149.35,261.97L147.04,261.97Z" fill="#1f77b4"/>
<path d="M135.88,261.41L137.03,263.4L134.72,263.4Z" fill="#1f77b4"/>
<path d="M125.95,262.84L127.1,264.84L124.79,264.84Z" fill="#1f77b4"/>
<path d="M118.25,264.28L119.41,266.27L117.1,266.27Z" fill="#1f77b4"/>
<path d="M111.17,265.71L112.32,267.71L110.01,267.71Z" fill="#1f77b4"/>
<path d="M105.11,267.15L106.27,269.14L103.96,269.14Z" fill="#1f77b4"/>
<path d="M99.22,268.58L100.37,270.58L98.06,270.58Z" fill="#1f77b4"/>
<path d="M93.51,270.02L94.67,272.01L92.36,272.01Z" fill="#1f77b4"/>
<path d="M89.22,271.45L90.37,273.45L88.06,273.45Z" fill="#1f77b4"/>
<path d="M85.06,272.89L86.21,274.88L83.9,274.88Z" fill="#1f77b4"/>
<path d="M81.16,274.32L82.32,276.32L80.01,276.32Z" fill="#1f77b4"/>
<path d="M77.64,275.76L78.8,277.75L76.49,277.75Z" fill="#1f77b4"/>
<path d="M74.61,277.19L75.76,279.19L73.45,279.19Z" fill="#1f77b4"/>
<path d="M71.99,278.63L73.15,280.62L70.84,280.62Z" fill="#1f77b4"/>
<path d="M69.75,280.06L70.9,282.06L68.59,282.06Z" fill="#1f77b4"/>
<path d="M67.79,281.5L68.94,283.49L66.63,283.49Z" fill="#1f77b4"/>
<path d="M66.05,282.93L67.2,284.93L64.89,284.93Z" fill="#1f77b4"/>
<circle cx="64.44" cy="285.57" r="0.95" fill="#ff7f0e"/>
<circle cx="62.92" cy="287.01" r="0.95" fill="#ff7f0e"/>
<circle cx="61.46" cy="288.44" r="0.95" fill="#ff7f0e"/>
<circle cx="60.05" cy="289.88" r="0.95" fill="#ff7f0e"/>
<circle cx="58.67" cy="291.32" r="1.0" fill="#2ca02c"/>
<circle cx="57.36" cy="292.75" r="1.0" fill="#2ca02c"/>
<circle cx="56.06" cy="294.19" r="1.0" fill="#2ca02c"/>
<circle cx="54.78" cy="295.62" r="1.0" fill="#2ca02c"/>
<circle cx="53.52" cy="297.06" r="1.0" fill="#2ca02c"/>
<circle cx="52.3" cy="298.49" r="1.0" fill="#2ca02c"/>
<circle cx="51.17" cy="299.93" r="1.0" fill="#2ca02c"/>
<circle cx="50.17" cy="301.36" r="1.0" fill="#2ca02c"/>
<circle cx="49.28" cy="302.8" r="1.0" fill="#2ca02c"/>
<circle cx="48.45" cy="304.23" r="1.0" fill="#2ca02c"/>
<circle cx="47.65" cy="305.67" r="1.0" fill="#2ca02c"/>
<circle cx="46.88" cy="307.1" r="1.0" fill="#2ca02c"/>
<circle cx="46.17" cy="308.54" r="1.0" fill="#2ca02c"/>
<circle cx="45.5" cy="309.97" r="1.0" fill="#2ca02c"/>
<circle cx="44.88" cy="311.41" r="1.0" fill="#2ca02c"/>
<circle cx="44.31" cy="312.84" r="1.0" fill="#2ca02c"/>
<circle cx="43.77" cy="314.28" r="1.0" fill="#2ca02c"/>
<circle cx="43.26" cy="315.71" r="1.0" fill="#2ca02c"/>
<circle cx="42.75" cy="317.15" r="1.0" fill="#2ca02c"/>
<circle cx="42.25" cy="318.58" r="1.0" fill="#2ca02c"/>
<circle cx="41.78" cy="320.02" r="1.0" fill="#2ca02c"/>
<circle cx="41.33" cy="321.45" r="1.0" fill="#2ca02c"/>
<circle cx="40.92" cy="322.89" r="1.0" fill="#2ca02c"/>
<circle cx="40.54" cy="324.32" r="1.0" fill="#2ca02c"/>
<circle cx="40.2" cy="325.76" r="1.0" fill="#2ca02c"/>
<circle cx="39.89" cy="327.19" r="1.0" fill="#2ca02c"/>
<circle cx="39.61" cy="328.63" r="1.0" fill="#2ca02c"/>
<circle cx="39.35" cy="330.06" r="1.0" fill="#2ca02c"/>
<circle cx="39.11" cy="331.5" r="1.0" fill="#2ca02c"/>
<circle cx="38.89" cy="332.93" r="1.0" fill="#2ca02c"/>
<circle cx="38.81" cy="334.37" r="1.0" fill="#2ca02c"/>
<circle cx="38.75" cy="335.8" r="1.0" fill="#2ca02c"/>
<circle cx="38.63" cy="337.24" r="1.0" fill="#2ca02c"/>
<circle cx="38.5" cy="338.67" r="1.0" fill="#2ca02c"/>
<circle cx="38.48" cy="340.11" r="1.0" fill="#2ca02c"/>
<circle cx="38.66" cy="341.54" r="1.0" fill="#2ca02c"/>
<circle cx="39.06" cy="342.98" r="1.0" fill="#2ca02c"/>
<circle cx="39.39" cy="344.41" r="1.0" fill="#2ca02c"/>
<circle cx="39.68" cy="345.85" r="1.0" fill="#2ca02c"/>
<circle cx="39.84" cy="347.28" r="1.0" fill="#2ca02c"/>
<circle cx="40.11" cy="348.72" r="1.0" fill="#2ca02c"/>
<circle cx="40.41" cy="350.15" r="1.0" fill="#2ca02c"/>
<circle cx="40.8" cy="351.59" r="1.0" fill="#2ca02c"/>
<circle cx="41.24" cy="353.02" r="1.0" fill="#2ca02c"/>
<circle cx="41.69" cy="354.46" r="1.0" fill="#2ca02c"/>
<circle cx="42.13" cy="355.89" r="1.0" fill="#2ca02c"/>
<circle cx="42.57" cy="357.33" r="1.0" fill="#2ca02c"/>
<circle cx="43.03" cy="358.76" r="1.0" fill="#2ca02c"/>
<circle cx="43.49" cy="360.2" r="1.0" fill="#2ca02c"/>
<circle cx="43.96" cy="361.63" r="1.0" fill="#2ca02c"/>
<circle cx="44.46" cy="363.07" r="1.0" fill="#2ca02c"/>
<circle cx="44.97" cy="364.5" r="1.0" fill="#2ca02c"/>
<circle cx="45.51" cy="365.94" r="1.0" fill="#2ca02c"/>
<circle cx="46.08" cy="367.37" r="1.0" fill="#2ca02c"/>
<circle cx="46.67" cy="368.81" r="1.0" fill="#2ca02c"/>
<circle cx="47.28" cy="370.24" r="1.0" fill="#2ca02c"/>
<circle cx="47.9" cy="371.68" r="1.0" fill="#2ca02c"/>
<circle cx="48.52" cy="373.11" r="1.0" fill="#2ca02c"/>
<circle cx="49.16" cy="374.55" r="1.0" fill="#2ca02c"/>
<circle cx="49.8" cy="375.98" r="1.0" fill="#2ca02c"/>
<circle cx="50.46" cy="377.42" r="1.0" fill="#2ca02c"/>
<circle cx="51.12" cy="378.85" r="1.0" fill="#2ca02c"/>
<circle cx="51.8" cy="380.29" r="1.0" fill="#2ca02c"/>
<circle cx="52.48" cy="381.72" r="1.0" fill="#2ca02c"/>
<circle cx="53.16" cy="383.16" r="1.0" fill="#2ca02c"/>
<circle cx="53.84" cy="384.59" r="1.0" fill="#2ca02c"/>
<circle cx="54.52" cy="386.03" r="1.0" fill="#2ca02c"/>
<circle cx="55.21" cy="387.46" r="1.0" fill="#2ca02c"/>
<circle cx="55.91" cy="388.9" r="1.0" fill="#2ca02c"/>
<circle cx="56.63" cy="390.33" r="1.0" fill="#2ca02c"/>
<circle cx="57.37" cy="391.77" r="1.0" fill="#2ca02c"/>
<circle cx="58.12" cy="393.2" r="1.0" fill="#2ca02c"/>
<circle cx="58.9" cy="394.64" r="1.0" fill="#2ca02c"/>
<circle cx="59.68" cy="396.07" r="1.0" fill="#2ca02c"/>
<circle cx="60.47" cy="397.51" r="1.0" fill="#2ca02c"/>
<polyline points="194.44,255.44 188.15,256.16 182.02,256.87 176.06,257.59 170.25,258.31 164.61,259.03 159.13,259.74 153.8,260.46 148.64,261.18 143.65,261.9 138.81,262.61 134.13,263.33 129.62,264.05 125.26,264.77 121.07,265.48 117.04,266.2 113.17,266.92 109.46,267.64 105.91,268.35 102.52,269.07 99.3,269.79 96.23,270.51 93.33,271.22 90.59,271.94 88.01,272.66 85.59,273.38 83.33,274.09 81.23,274.81 79.3,275.53 77.52,276.25 75.91,276.96 74.46,277.68 73.17,278.4 72.04,279.12 71.07,279.83 70.26,280.55 69.62,281.27 69.13,281.99 68.81,282.7 68.65,283.42 68.65,284.14" class="fit" stroke-dasharray="0.9 0.9"/>
<polyline points="64.44,285.57 63.67,286.29 62.92,287.01 62.18,287.73 61.46,288.44 60.75,289.16 60.05,289.88" class="fit" stroke-dasharray="0.9 0.9"/>
<polyline points="56.5,291.32 56.01,292.03 55.52,292.75 55.04,293.47 54.57,294.19 54.1,294.9 53.64,295.62 53.19,296.34 52.75,297.06 52.32,297.77 51.89,298.49 51.47,299.21 51.05,299.93 50.64,300.64 50.25,301.36 49.85,302.08 49.47,302.8 49.09,303.51 48.72,304.23 48.36,304.95 48,305.67 47.65,306.38 47.31,307.1 46.98,307.82 46.65,308.54 46.34,309.25 46.02,309.97 45.72,310.69 45.42,311.41 45.13,312.12 44.85,312.84 44.58,313.56 44.31,314.28 44.05,314.99 43.8,315.71 43.55,316.43 43.31,317.15 43.08,317.86 42.86,318.58 42.64,319.3 42.43,320.02 42.23,320.73 42.03,321.45 41.85,322.17 41.67,322.89 41.5,323.6 41.33,324.32 41.17,325.04 41.02,325.76 40.88,326.47 40.74,327.19 40.61,327.91 40.49,328.63 40.38,329.34 40.27,330.06 40.17,330.78 40.08,331.5 40,332.21 39.92,332.93 39.85,333.65 39.79,334.37 39.73,335.08 39.68,335.8 39.64,336.52 39.61,337.24 39.58,337.95 39.56,338.67 39.55,339.39 39.55,340.11 39.55,340.82 39.56,341.54 39.58,342.26 39.6,342.98 39.64,343.69 39.68,344.41 39.72,345.13 39.78,345.85 39.84,346.56 39.91,347.28 39.98,348 40.07,348.72 40.16,349.43 40.26,350.15 40.36,350.87 40.47,351.59 40.59,352.31 40.72,353.02 40.86,353.74 41,354.46 41.15,355.18 41.31,355.89 41.47,356.61 41.64,357.33 41.82,358.05 42.01,358.76 42.2,359.48 42.4,360.2 42.61,360.92 42.82,361.63 43.05,362.35 43.28,363.07 43.51,363.79 43.76,364.5 44.01,365.22 44.27,365.94 44.54,366.66 44.81,367.37 45.09,368.09 45.38,368.81 45.67,369.53 45.98,370.24 46.29,370.96 46.61,371.68 46.93,372.4 47.26,373.11 47.6,373.83 47.95,374.55 48.3,375.27 48.67,375.98 49.03,376.7 49.41,377.42 49.79,378.14 50.19,378.85 50.58,379.57 50.99,380.29 51.4,381.01 51.82,381.72 52.25,382.44 52.68,383.16 53.13,383.88 53.58,384.59 54.03,385.31 54.5,386.03 54.97,386.75 55.45,387.46 55.93,388.18 56.43,388.9 56.93,389.62 57.44,390.33 57.95,391.05 58.47,391.77 59,392.49 59.54,393.2 60.09,393.92 60.64,394.64 61.2,395.36 61.76,396.07 62.34,396.79 62.92,397.51" class="fit" stroke-dasharray="0.9 0.9"/>
<rect x="167.4" y="358.2" width="33" height="42.3" rx="1" class="lg"/>
<path d="M173.6,361.09L174.75,363.09L172.44,363.09Z" fill="#1f77b4"/>
<text x="182.5" y="363.98" font-size="5.04" textLength="14.69" lengthAdjust="spacingAndGlyphs" class="lt">layer1</text>
<line x1="168.6" y1="369.08" x2="177.9" y2="369.08" stroke="#ff2a2a" stroke-width="0.95" stroke-dasharray="1.05 1.35"/>
<text x="182.5" y="370.76" font-size="5.04" textLength="14.69" lengthAdjust="spacingAndGlyphs" class="lt">layer1</text>
<circle cx="173.6" cy="375.86" r="0.95" fill="#ff7f0e"/>
<text x="182.5" y="377.54" font-size="5.04" textLength="14.69" lengthAdjust="spacingAndGlyphs" class="lt">layer2</text>
<line x1="168.6" y1="382.64" x2="177.9" y2="382.64" stroke="#ff2a2a" stroke-width="0.95" stroke-dasharray="1.05 1.35"/>
<text x="182.5" y="384.32" font-size="5.04" textLength="14.69" lengthAdjust="spacingAndGlyphs" class="lt">layer2</text>
<circle cx="173.6" cy="389.42" r="1.0" fill="#2ca02c"/>
<text x="182.5" y="391.1" font-size="5.04" textLength="14.69" lengthAdjust="spacingAndGlyphs" class="lt">layer3</text>
<line x1="168.6" y1="396.2" x2="177.9" y2="396.2" stroke="#ff2a2a" stroke-width="0.95" stroke-dasharray="1.05 1.35"/>
<text x="182.5" y="397.88" font-size="5.04" textLength="14.69" lengthAdjust="spacingAndGlyphs" class="lt">layer3</text>
<line x1="355.2" y1="409.7" x2="355.2" y2="411.33" class="tk"/>
<text x="355.2" y="415.2" text-anchor="middle" font-size="3.74" textLength="8.65" lengthAdjust="spacingAndGlyphs" class="tl">1480</text>
<line x1="382.73" y1="409.7" x2="382.73" y2="411.33" class="tk"/>
<text x="382.73" y="415.2" text-anchor="middle" font-size="3.74" textLength="8.65" lengthAdjust="spacingAndGlyphs" class="tl">1490</text>
<line x1="410.26" y1="409.7" x2="410.26" y2="411.33" class="tk"/>
<text x="410.26" y="415.2" text-anchor="middle" font-size="3.74" textLength="8.65" lengthAdjust="spacingAndGlyphs" class="tl">1500</text>
<line x1="437.79" y1="409.7" x2="437.79" y2="411.33" class="tk"/>
<text x="437.79" y="415.2" text-anchor="middle" font-size="3.74" textLength="8.65" lengthAdjust="spacingAndGlyphs" class="tl">1510</text>
<line x1="465.32" y1="409.7" x2="465.32" y2="411.33" class="tk"/>
<text x="465.32" y="415.2" text-anchor="middle" font-size="3.74" textLength="8.65" lengthAdjust="spacingAndGlyphs" class="tl">1520</text>
<line x1="492.85" y1="409.7" x2="492.85" y2="411.33" class="tk"/>
<text x="492.85" y="415.2" text-anchor="middle" font-size="3.74" textLength="8.65" lengthAdjust="spacingAndGlyphs" class="tl">1530</text>
<line x1="520.38" y1="409.7" x2="520.38" y2="411.33" class="tk"/>
<text x="520.38" y="415.2" text-anchor="middle" font-size="3.74" textLength="8.65" lengthAdjust="spacingAndGlyphs" class="tl">1540</text>
<line x1="353.17" y1="247.72" x2="354.8" y2="247.72" class="tk"/>
<text x="352.7" y="249.57" text-anchor="end" font-size="3.74" textLength="2.16" lengthAdjust="spacingAndGlyphs" class="tl">0</text>
<line x1="353.17" y1="267" x2="354.8" y2="267" class="tk"/>
<text x="352.7" y="268.85" text-anchor="end" font-size="3.74" textLength="6.49" lengthAdjust="spacingAndGlyphs" class="tl">250</text>
<line x1="353.17" y1="286.28" x2="354.8" y2="286.28" class="tk"/>
<text x="352.7" y="288.13" text-anchor="end" font-size="3.74" textLength="6.49" lengthAdjust="spacingAndGlyphs" class="tl">500</text>
<line x1="353.17" y1="305.57" x2="354.8" y2="305.57" class="tk"/>
<text x="352.7" y="307.42" text-anchor="end" font-size="3.74" textLength="6.49" lengthAdjust="spacingAndGlyphs" class="tl">750</text>
<line x1="353.17" y1="324.85" x2="354.8" y2="324.85" class="tk"/>
<text x="352.7" y="326.7" text-anchor="end" font-size="3.74" textLength="8.65" lengthAdjust="spacingAndGlyphs" class="tl">1000</text>
<line x1="353.17" y1="344.14" x2="354.8" y2="344.14" class="tk"/>
<text x="352.7" y="345.99" text-anchor="end" font-size="3.74" textLength="8.65" lengthAdjust="spacingAndGlyphs" class="tl">1250</text>
<line x1="353.17" y1="363.42" x2="354.8" y2="363.42" class="tk"/>
<text x="352.7" y="365.27" text-anchor="end" font-size="3.74" textLength="8.65" lengthAdjust="spacingAndGlyphs" class="tl">1500</text>
<line x1="353.17" y1="382.7" x2="354.8" y2="382.7" class="tk"/>
<text x="352.7" y="384.55" text-anchor="end" font-size="3.74" textLength="8.65" lengthAdjust="spacingAndGlyphs" class="tl">1750</text>
<line x1="353.17" y1="401.99" x2="354.8" y2="401.99" class="tk"/>
<text x="352.7" y="403.84" text-anchor="end" font-size="3.74" textLength="8.65" lengthAdjust="spacingAndGlyphs" class="tl">2000</text>
<rect x="354.8" y="241.7" width="186.5" height="168" class="ax"/>
<text x="355.1" y="240" textLength="185.9" lengthAdjust="spacingAndGlyphs" font-size="6.4" class="ti">Stratification of sound velocity profiles based on equidistance</text>
<text x="448.2" y="421.8" text-anchor="middle" font-size="6.3" textLength="43.57" lengthAdjust="spacingAndGlyphs" class="tt">sound velocity</text>
<text transform="translate(341.3,326.5) rotate(-90)" text-anchor="middle" font-size="6" class="tt">depth</text>
<text x="444.9" y="446" text-anchor="middle" font-size="11.2" class="cap">(<tspan font-size="10.8" dx="0.35" font-weight="bold">d</tspan><tspan dx="0.35">)</tspan></text>
<rect x="525.39" y="248.21" width="2.1" height="2.1" fill="#1f77b4"/>
<rect x="524.47" y="249.75" width="2.1" height="2.1" fill="#1f77b4"/>
<rect x="513.02" y="251.29" width="2.1" height="2.1" fill="#1f77b4"/>
<rect x="494.31" y="252.84" width="2.1" height="2.1" fill="#1f77b4"/>
<rect x="481.63" y="254.38" width="2.1" height="2.1" fill="#1f77b4"/>
<rect x="468.24" y="255.92" width="2.1" height="2.1" fill="#1f77b4"/>
<rect x="457.45" y="257.47" width="2.1" height="2.1" fill="#1f77b4"/>
<rect x="449.09" y="259.01" width="2.1" height="2.1" fill="#1f77b4"/>
<rect x="441.39" y="260.55" width="2.1" height="2.1" fill="#1f77b4"/>
<rect x="434.81" y="262.09" width="2.1" height="2.1" fill="#1f77b4"/>
<rect x="428.35" y="263.59" width="2.2" height="2.2" fill="#ff7f0e"/>
<rect x="422.15" y="265.13" width="2.2" height="2.2" fill="#ff7f0e"/>
<rect x="417.48" y="266.67" width="2.2" height="2.2" fill="#ff7f0e"/>
<rect x="412.96" y="268.21" width="2.2" height="2.2" fill="#ff7f0e"/>
<rect x="408.73" y="269.76" width="2.2" height="2.2" fill="#ff7f0e"/>
<rect x="404.9" y="271.3" width="2.2" height="2.2" fill="#ff7f0e"/>
<rect x="401.6" y="272.84" width="2.2" height="2.2" fill="#ff7f0e"/>
<rect x="398.76" y="274.39" width="2.2" height="2.2" fill="#ff7f0e"/>
<rect x="396.32" y="275.93" width="2.2" height="2.2" fill="#ff7f0e"/>
<rect x="394.19" y="277.47" width="2.2" height="2.2" fill="#ff7f0e"/>
<circle cx="393.4" cy="280.11" r="1.2" fill="#2ca02c"/>
<circle cx="391.65" cy="281.66" r="1.2" fill="#2ca02c"/>
<circle cx="390" cy="283.2" r="1.2" fill="#2ca02c"/>
<circle cx="388.42" cy="284.74" r="1.2" fill="#2ca02c"/>
<circle cx="386.88" cy="286.28" r="1.2" fill="#2ca02c"/>
<circle cx="385.39" cy="287.83" r="1.2" fill="#2ca02c"/>
<circle cx="383.95" cy="289.37" r="1.2" fill="#2ca02c"/>
<circle cx="382.55" cy="290.91" r="1.2" fill="#2ca02c"/>
<circle cx="381.16" cy="292.45" r="1.2" fill="#2ca02c"/>
<circle cx="379.79" cy="294" r="1.2" fill="#2ca02c"/>
<rect x="377.56" y="294.64" width="1.8" height="1.8" fill="#d62728"/>
<rect x="376.33" y="296.18" width="1.8" height="1.8" fill="#d62728"/>
<rect x="375.24" y="297.73" width="1.8" height="1.8" fill="#d62728"/>
<rect x="374.28" y="299.27" width="1.8" height="1.8" fill="#d62728"/>
<rect x="373.38" y="300.81" width="1.8" height="1.8" fill="#d62728"/>
<rect x="372.51" y="302.35" width="1.8" height="1.8" fill="#d62728"/>
<rect x="371.67" y="303.9" width="1.8" height="1.8" fill="#d62728"/>
<rect x="370.89" y="305.44" width="1.8" height="1.8" fill="#d62728"/>
<rect x="370.16" y="306.98" width="1.8" height="1.8" fill="#d62728"/>
<rect x="369.49" y="308.52" width="1.8" height="1.8" fill="#d62728"/>
<rect x="368.92" y="310.12" width="1.7" height="1.7" fill="#9467bd"/>
<rect x="368.34" y="311.66" width="1.7" height="1.7" fill="#9467bd"/>
<rect x="367.78" y="313.2" width="1.7" height="1.7" fill="#9467bd"/>
<rect x="367.23" y="314.75" width="1.7" height="1.7" fill="#9467bd"/>
<rect x="366.69" y="316.29" width="1.7" height="1.7" fill="#9467bd"/>
<rect x="366.18" y="317.83" width="1.7" height="1.7" fill="#9467bd"/>
<rect x="365.69" y="319.37" width="1.7" height="1.7" fill="#9467bd"/>
<rect x="365.24" y="320.92" width="1.7" height="1.7" fill="#9467bd"/>
<rect x="364.83" y="322.46" width="1.7" height="1.7" fill="#9467bd"/>
<rect x="364.46" y="324" width="1.7" height="1.7" fill="#9467bd"/>
<rect x="364.22" y="325.64" width="1.5" height="1.5" fill="#8c564b"/>
<rect x="363.92" y="327.19" width="1.5" height="1.5" fill="#8c564b"/>
<rect x="363.63" y="328.73" width="1.5" height="1.5" fill="#8c564b"/>
<rect x="363.37" y="330.27" width="1.5" height="1.5" fill="#8c564b"/>
<rect x="363.13" y="331.82" width="1.5" height="1.5" fill="#8c564b"/>
<rect x="363.05" y="333.36" width="1.5" height="1.5" fill="#8c564b"/>
<rect x="362.98" y="334.9" width="1.5" height="1.5" fill="#8c564b"/>
<rect x="362.85" y="336.44" width="1.5" height="1.5" fill="#8c564b"/>
<rect x="362.71" y="337.99" width="1.5" height="1.5" fill="#8c564b"/>
<rect x="362.69" y="339.53" width="1.5" height="1.5" fill="#8c564b"/>
<rect x="362.89" y="341.07" width="1.5" height="1.5" fill="#e377c2"/>
<rect x="363.32" y="342.61" width="1.5" height="1.5" fill="#e377c2"/>
<rect x="363.67" y="344.16" width="1.5" height="1.5" fill="#e377c2"/>
<rect x="363.99" y="345.7" width="1.5" height="1.5" fill="#e377c2"/>
<rect x="364.17" y="347.24" width="1.5" height="1.5" fill="#e377c2"/>
<rect x="364.46" y="348.78" width="1.5" height="1.5" fill="#e377c2"/>
<rect x="364.78" y="350.33" width="1.5" height="1.5" fill="#e377c2"/>
<rect x="365.21" y="351.87" width="1.5" height="1.5" fill="#e377c2"/>
<rect x="365.69" y="353.41" width="1.5" height="1.5" fill="#e377c2"/>
<rect x="366.17" y="354.96" width="1.5" height="1.5" fill="#e377c2"/>
<rect x="366.7" y="356.55" width="1.4" height="1.4" fill="#7f7f7f"/>
<rect x="367.19" y="358.09" width="1.4" height="1.4" fill="#7f7f7f"/>
<rect x="367.68" y="359.63" width="1.4" height="1.4" fill="#7f7f7f"/>
<rect x="368.18" y="361.18" width="1.4" height="1.4" fill="#7f7f7f"/>
<rect x="368.7" y="362.72" width="1.4" height="1.4" fill="#7f7f7f"/>
<rect x="369.23" y="364.26" width="1.4" height="1.4" fill="#7f7f7f"/>
<rect x="369.79" y="365.8" width="1.4" height="1.4" fill="#7f7f7f"/>
<rect x="370.38" y="367.35" width="1.4" height="1.4" fill="#7f7f7f"/>
<rect x="371" y="368.89" width="1.4" height="1.4" fill="#7f7f7f"/>
<rect x="371.64" y="370.43" width="1.4" height="1.4" fill="#7f7f7f"/>
<rect x="372.25" y="371.93" width="1.5" height="1.5" fill="#bcbd22"/>
<rect x="372.92" y="373.47" width="1.5" height="1.5" fill="#bcbd22"/>
<rect x="373.6" y="375.01" width="1.5" height="1.5" fill="#bcbd22"/>
<rect x="374.29" y="376.55" width="1.5" height="1.5" fill="#bcbd22"/>
<rect x="374.99" y="378.1" width="1.5" height="1.5" fill="#bcbd22"/>
<rect x="375.7" y="379.64" width="1.5" height="1.5" fill="#bcbd22"/>
<rect x="376.43" y="381.18" width="1.5" height="1.5" fill="#bcbd22"/>
<rect x="377.17" y="382.72" width="1.5" height="1.5" fill="#bcbd22"/>
<rect x="377.91" y="384.27" width="1.5" height="1.5" fill="#bcbd22"/>
<rect x="378.65" y="385.81" width="1.5" height="1.5" fill="#bcbd22"/>
<rect x="379.38" y="387.35" width="1.5" height="1.5" fill="#17becf"/>
<rect x="380.12" y="388.89" width="1.5" height="1.5" fill="#17becf"/>
<rect x="380.87" y="390.44" width="1.5" height="1.5" fill="#17becf"/>
<rect x="381.63" y="391.98" width="1.5" height="1.5" fill="#17becf"/>
<rect x="382.42" y="393.52" width="1.5" height="1.5" fill="#17becf"/>
<rect x="383.22" y="395.07" width="1.5" height="1.5" fill="#17becf"/>
<rect x="384.04" y="396.61" width="1.5" height="1.5" fill="#17becf"/>
<rect x="384.88" y="398.15" width="1.5" height="1.5" fill="#17becf"/>
<rect x="385.73" y="399.69" width="1.5" height="1.5" fill="#17becf"/>
<rect x="386.59" y="401.24" width="1.5" height="1.5" fill="#17becf"/>
<polyline points="533.68,249.26 526.88,250.03 520.22,250.8 513.71,251.57 507.34,252.34 501.11,253.12 495.03,253.89 489.1,254.66 483.3,255.43 477.66,256.2 472.15,256.97 466.79,257.74 461.57,258.52 456.5,259.29 451.57,260.06 446.79,260.83 442.14,261.6 437.65,262.37 433.29,263.14" class="fit" stroke-dasharray="2.4 1.2"/>
<polyline points="429.17,264.69 426.36,265.46 423.67,266.23 421.08,267 418.6,267.77 416.23,268.54 413.97,269.31 411.82,270.09 409.77,270.86 407.84,271.63 406.02,272.4 404.3,273.17 402.7,273.94 401.2,274.71 399.82,275.49 398.54,276.26 397.37,277.03 396.32,277.8 395.37,278.57" class="fit" stroke-dasharray="2.4 1.2"/>
<polyline points="393.36,280.11 392.51,280.88 391.67,281.66 390.84,282.43 390.03,283.2 389.23,283.97 388.44,284.74 387.66,285.51 386.89,286.28 386.13,287.06 385.38,287.83 384.65,288.6 383.93,289.37 383.21,290.14 382.51,290.91 381.82,291.68 381.14,292.45 380.48,293.23 379.82,294" class="fit" stroke-dasharray="2.4 1.2"/>
<polyline points="378.39,295.54 377.83,296.31 377.27,297.08 376.73,297.85 376.21,298.63 375.7,299.4 375.2,300.17 374.72,300.94 374.26,301.71 373.81,302.48 373.37,303.25 372.95,304.03 372.55,304.8 372.15,305.57 371.78,306.34 371.42,307.11 371.07,307.88 370.74,308.65 370.42,309.42" class="fit" stroke-dasharray="2.4 1.2"/>
<polyline points="369.79,310.97 369.49,311.74 369.19,312.51 368.9,313.28 368.61,314.05 368.33,314.82 368.06,315.6 367.79,316.37 367.53,317.14 367.28,317.91 367.03,318.68 366.79,319.45 366.56,320.22 366.33,320.99 366.11,321.77 365.89,322.54 365.69,323.31 365.48,324.08 365.29,324.85" class="fit" stroke-dasharray="2.4 1.2"/>
<polyline points="364.96,326.39 364.8,327.17 364.65,327.94 364.52,328.71 364.39,329.48 364.27,330.25 364.15,331.02 364.05,331.79 363.95,332.57 363.87,333.34 363.79,334.11 363.72,334.88 363.65,335.65 363.6,336.42 363.56,337.19 363.52,337.96 363.49,338.74 363.47,339.51 363.46,340.28" class="fit" stroke-dasharray="2.4 1.2"/>
<polyline points="363.77,341.82 363.89,342.59 364.03,343.36 364.17,344.14 364.31,344.91 364.46,345.68 364.61,346.45 364.77,347.22 364.93,347.99 365.1,348.76 365.28,349.53 365.45,350.31 365.64,351.08 365.83,351.85 366.02,352.62 366.22,353.39 366.42,354.16 366.63,354.93 366.85,355.71" class="fit" stroke-dasharray="2.4 1.2"/>
<polyline points="367.42,357.25 367.65,358.02 367.88,358.79 368.12,359.56 368.36,360.33 368.61,361.1 368.87,361.88 369.13,362.65 369.39,363.42 369.66,364.19 369.94,364.96 370.22,365.73 370.5,366.5 370.8,367.28 371.09,368.05 371.39,368.82 371.7,369.59 372.01,370.36 372.32,371.13" class="fit" stroke-dasharray="2.4 1.2"/>
<polyline points="373,372.68 373.33,373.45 373.67,374.22 374.01,374.99 374.35,375.76 374.7,376.53 375.04,377.3 375.39,378.07 375.74,378.85 376.1,379.62 376.46,380.39 376.82,381.16 377.18,381.93 377.54,382.7 377.91,383.47 378.28,384.25 378.65,385.02 379.03,385.79 379.4,386.56" class="fit" stroke-dasharray="2.4 1.2"/>
<polyline points="380.14,388.1 380.5,388.87 380.87,389.64 381.24,390.42 381.62,391.19 382,391.96 382.39,392.73 382.78,393.5 383.17,394.27 383.57,395.04 383.97,395.82 384.38,396.59 384.79,397.36 385.2,398.13 385.62,398.9 386.05,399.67 386.48,400.44 386.91,401.22 387.35,401.99" class="fit" stroke-dasharray="2.4 1.2"/>
<rect x="500.6" y="267.2" width="39.7" height="139.9" rx="1" class="lg"/>
<rect x="506.05" y="271.05" width="2.1" height="2.1" fill="#1f77b4"/>
<text x="515.4" y="273.8" font-size="5.1" textLength="18.87" lengthAdjust="spacingAndGlyphs" class="lt">Group 1</text>
<line x1="502.1" y1="278.98" x2="512.1" y2="278.98" stroke="#ff2a2a" stroke-width="0.95" stroke-dasharray="2.2 1.2"/>
<text x="515.4" y="280.68" font-size="5.1" textLength="10.04" lengthAdjust="spacingAndGlyphs" class="lt">Fit 1</text>
<rect x="506" y="284.76" width="2.2" height="2.2" fill="#ff7f0e"/>
<text x="515.4" y="287.56" font-size="5.1" textLength="18.87" lengthAdjust="spacingAndGlyphs" class="lt">Group 2</text>
<line x1="502.1" y1="292.74" x2="512.1" y2="292.74" stroke="#ff2a2a" stroke-width="0.95" stroke-dasharray="2.2 1.2"/>
<text x="515.4" y="294.44" font-size="5.1" textLength="10.04" lengthAdjust="spacingAndGlyphs" class="lt">Fit 2</text>
<circle cx="507.1" cy="299.62" r="1.2" fill="#2ca02c"/>
<text x="515.4" y="301.32" font-size="5.1" textLength="18.87" lengthAdjust="spacingAndGlyphs" class="lt">Group 3</text>
<line x1="502.1" y1="306.5" x2="512.1" y2="306.5" stroke="#ff2a2a" stroke-width="0.95" stroke-dasharray="2.2 1.2"/>
<text x="515.4" y="308.2" font-size="5.1" textLength="10.04" lengthAdjust="spacingAndGlyphs" class="lt">Fit 3</text>
<rect x="506.2" y="312.48" width="1.8" height="1.8" fill="#d62728"/>
<text x="515.4" y="315.08" font-size="5.1" textLength="18.87" lengthAdjust="spacingAndGlyphs" class="lt">Group 4</text>
<line x1="502.1" y1="320.26" x2="512.1" y2="320.26" stroke="#ff2a2a" stroke-width="0.95" stroke-dasharray="2.2 1.2"/>
<text x="515.4" y="321.96" font-size="5.1" textLength="10.04" lengthAdjust="spacingAndGlyphs" class="lt">Fit 4</text>
<rect x="506.25" y="326.29" width="1.7" height="1.7" fill="#9467bd"/>
<text x="515.4" y="328.84" font-size="5.1" textLength="18.87" lengthAdjust="spacingAndGlyphs" class="lt">Group 5</text>
<line x1="502.1" y1="334.02" x2="512.1" y2="334.02" stroke="#ff2a2a" stroke-width="0.95" stroke-dasharray="2.2 1.2"/>
<text x="515.4" y="335.72" font-size="5.1" textLength="10.04" lengthAdjust="spacingAndGlyphs" class="lt">Fit 5</text>
<rect x="506.35" y="340.15" width="1.5" height="1.5" fill="#8c564b"/>
<text x="515.4" y="342.6" font-size="5.1" textLength="18.87" lengthAdjust="spacingAndGlyphs" class="lt">Group 6</text>
<line x1="502.1" y1="347.78" x2="512.1" y2="347.78" stroke="#ff2a2a" stroke-width="0.95" stroke-dasharray="2.2 1.2"/>
<text x="515.4" y="349.48" font-size="5.1" textLength="10.04" lengthAdjust="spacingAndGlyphs" class="lt">Fit 6</text>
<rect x="506.35" y="353.91" width="1.5" height="1.5" fill="#e377c2"/>
<text x="515.4" y="356.36" font-size="5.1" textLength="18.87" lengthAdjust="spacingAndGlyphs" class="lt">Group 7</text>
<line x1="502.1" y1="361.54" x2="512.1" y2="361.54" stroke="#ff2a2a" stroke-width="0.95" stroke-dasharray="2.2 1.2"/>
<text x="515.4" y="363.24" font-size="5.1" textLength="10.04" lengthAdjust="spacingAndGlyphs" class="lt">Fit 7</text>
<rect x="506.4" y="367.72" width="1.4" height="1.4" fill="#7f7f7f"/>
<text x="515.4" y="370.12" font-size="5.1" textLength="18.87" lengthAdjust="spacingAndGlyphs" class="lt">Group 8</text>
<line x1="502.1" y1="375.3" x2="512.1" y2="375.3" stroke="#ff2a2a" stroke-width="0.95" stroke-dasharray="2.2 1.2"/>
<text x="515.4" y="377" font-size="5.1" textLength="10.04" lengthAdjust="spacingAndGlyphs" class="lt">Fit 8</text>
<rect x="506.35" y="381.43" width="1.5" height="1.5" fill="#bcbd22"/>
<text x="515.4" y="383.88" font-size="5.1" textLength="18.87" lengthAdjust="spacingAndGlyphs" class="lt">Group 9</text>
<line x1="502.1" y1="389.06" x2="512.1" y2="389.06" stroke="#ff2a2a" stroke-width="0.95" stroke-dasharray="2.2 1.2"/>
<text x="515.4" y="390.76" font-size="5.1" textLength="10.04" lengthAdjust="spacingAndGlyphs" class="lt">Fit 9</text>
<rect x="506.35" y="395.19" width="1.5" height="1.5" fill="#17becf"/>
<text x="515.4" y="397.64" font-size="5.1" textLength="21.88" lengthAdjust="spacingAndGlyphs" class="lt">Group 10</text>
<line x1="502.1" y1="402.82" x2="512.1" y2="402.82" stroke="#ff2a2a" stroke-width="0.95" stroke-dasharray="2.2 1.2"/>
<text x="515.4" y="404.52" font-size="5.1" textLength="13.04" lengthAdjust="spacingAndGlyphs" class="lt">Fit 10</text>
</g>
</svg>
</body></html>
